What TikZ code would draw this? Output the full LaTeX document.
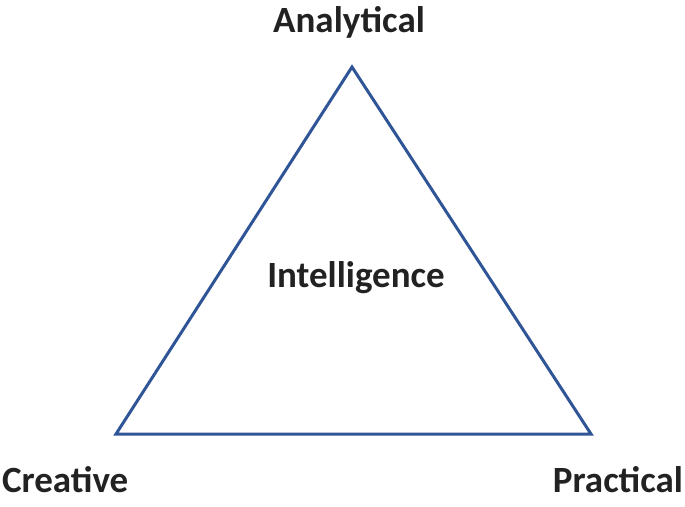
\documentclass[tikz,border=0pt]{standalone}
\usepackage{fontspec}
\setmainfont{Carlito}
\definecolor{triblue}{HTML}{2F5597}
\definecolor{txtdark}{HTML}{222222}
\tikzset{
  lbl/.style={font=\fontsize{37}{40}\selectfont\bfseries, text=txtdark, inner sep=0pt, outer sep=0pt},
  edge/.style={draw=triblue, line width=3pt, line join=miter}
}
\begin{document}
\begin{tikzpicture}[x=1pt,y=-1pt]
\useasboundingbox (0,0) rectangle (685,506);
\coordinate (top) at (352,67);
\coordinate (bl) at (116,434);
\coordinate (br) at (591,434);
\draw[edge] (top) -- (bl) -- (br) -- cycle;
\node[lbl, anchor=base] (analytical) at (349,32) {Analytical};
\node[lbl, anchor=base west] (creative) at (2,492) {Creative};
\node[lbl, anchor=base east] (practical) at (683,492) {Practical};
\node[lbl, anchor=base] (intel) at (356,287) {Intelligence};
\end{tikzpicture}
\end{document}
